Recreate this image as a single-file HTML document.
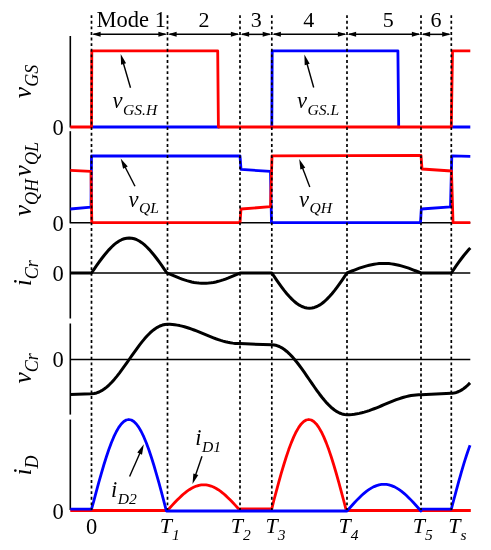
<!DOCTYPE html>
<html><head><meta charset="utf-8"><style>
html,body{margin:0;padding:0;background:#fff;}
svg{display:block;}
</style></head><body>
<svg width="491" height="550" viewBox="0 0 491 550">
<rect width="491" height="550" fill="#fff"/>
<line x1="93.5" y1="34.35" x2="165.5" y2="34.35" stroke="#000" stroke-width="1.5" /><polygon points="92.1,34.35 100.6,31.85 100.6,36.85" fill="#000"/><polygon points="166.9,34.35 158.4,31.85 158.4,36.85" fill="#000"/>
<line x1="169.5" y1="34.35" x2="238" y2="34.35" stroke="#000" stroke-width="1.5" /><polygon points="168.1,34.35 176.6,31.85 176.6,36.85" fill="#000"/><polygon points="239.4,34.35 230.9,31.85 230.9,36.85" fill="#000"/>
<line x1="242" y1="34.35" x2="269.8" y2="34.35" stroke="#000" stroke-width="1.5" /><polygon points="240.6,34.35 249.1,31.85 249.1,36.85" fill="#000"/><polygon points="271.2,34.35 262.7,31.85 262.7,36.85" fill="#000"/>
<line x1="273.8" y1="34.35" x2="345" y2="34.35" stroke="#000" stroke-width="1.5" /><polygon points="272.4,34.35 280.9,31.85 280.9,36.85" fill="#000"/><polygon points="346.4,34.35 337.9,31.85 337.9,36.85" fill="#000"/>
<line x1="349" y1="34.35" x2="419" y2="34.35" stroke="#000" stroke-width="1.5" /><polygon points="347.6,34.35 356.1,31.85 356.1,36.85" fill="#000"/><polygon points="420.4,34.35 411.9,31.85 411.9,36.85" fill="#000"/>
<line x1="423" y1="34.35" x2="449.3" y2="34.35" stroke="#000" stroke-width="1.5" /><polygon points="421.6,34.35 430.1,31.85 430.1,36.85" fill="#000"/><polygon points="450.7,34.35 442.2,31.85 442.2,36.85" fill="#000"/>
<text x="96.6" y="26.6" font-size="22.5" font-family="Liberation Serif, serif">Mode 1</text>
<text x="198.5" y="26.6" font-size="22" font-family="Liberation Serif, serif">2</text>
<text x="250.8" y="26.6" font-size="22" font-family="Liberation Serif, serif">3</text>
<text x="303.2" y="26.6" font-size="22" font-family="Liberation Serif, serif">4</text>
<text x="382.7" y="26.6" font-size="22" font-family="Liberation Serif, serif">5</text>
<text x="430.5" y="26.6" font-size="22" font-family="Liberation Serif, serif">6</text>
<line x1="70.3" y1="36" x2="70.3" y2="127.5" stroke="#000" stroke-width="1.6" />
<line x1="70.3" y1="131.2" x2="70.3" y2="223.3" stroke="#000" stroke-width="1.6" />
<line x1="70.3" y1="228" x2="70.3" y2="318.5" stroke="#000" stroke-width="1.6" />
<line x1="70.3" y1="323.5" x2="70.3" y2="414.6" stroke="#000" stroke-width="1.6" />
<line x1="70.3" y1="419.6" x2="70.3" y2="510" stroke="#000" stroke-width="1.6" />
<text x="52.6" y="135.0" font-size="22.5" font-family="Liberation Serif, serif">0</text>
<text x="52.6" y="231.10000000000002" font-size="22.5" font-family="Liberation Serif, serif">0</text>
<text x="52.6" y="281.40000000000003" font-size="22.5" font-family="Liberation Serif, serif">0</text>
<text x="52.6" y="367.2" font-size="22.5" font-family="Liberation Serif, serif">0</text>
<text x="52.6" y="518.8" font-size="22.5" font-family="Liberation Serif, serif">0</text>
<path d="M91.5,127L219.5,127M271.8,128.2L272.2,50.8L397.9,50.8L398.7,128.2M451.3,127L470.3,127" fill="none" stroke="#0000ff" stroke-width="2.8" stroke-linejoin="round" stroke-linejoin="miter"/>
<path d="M70.3,127L91.5,127L91.8,50.8L217.7,50.8L218.4,127L451.3,127L452.5,50.8L470.3,50.8" fill="none" stroke="#ff0000" stroke-width="2.8" stroke-linejoin="round" stroke-linejoin="miter"/>
<line x1="70.3" y1="222.7" x2="470.3" y2="222.7" stroke="#000" stroke-width="1.5" />
<path d="M70.3,209L91,207.2L91.5,156L240,155.8L241,169.4L270.5,171.4L271.5,222.7L420.5,222.7L421.3,209L450.5,206.9L451.8,155.8L470.3,156.3" fill="none" stroke="#0000ff" stroke-width="2.8" stroke-linejoin="round" stroke-linejoin="miter"/>
<path d="M70.3,170.4L91,171.3L91.8,222.7L240,222.7L241,209L270.5,206.7L272,155.9L421,155.4L422,169L451.5,171L453,222.7L470.3,222.7" fill="none" stroke="#ff0000" stroke-width="2.8" stroke-linejoin="round" stroke-linejoin="miter"/>
<line x1="70.3" y1="273" x2="470.3" y2="273" stroke="#000" stroke-width="1.5" />
<path d="M70.3,273L91.5,273L94.01,269.34L96.53,265.72L99.04,262.18L101.55,258.76L104.07,255.5L106.58,252.43L109.09,249.58L111.61,246.99L114.12,244.68L116.63,242.69L119.15,241.03L121.66,239.71L124.17,238.76L126.69,238.19L129.2,238L131.71,238.19L134.23,238.76L136.74,239.71L139.25,241.03L141.77,242.69L144.28,244.68L146.79,246.99L149.31,249.58L151.82,252.43L154.33,255.5L156.85,258.76L159.36,262.18L161.87,265.72L164.39,269.34L166.9,273L169.92,274.08L172.33,275.14L174.75,276.18L177.17,277.19L179.58,278.15L182,279.05L184.42,279.89L186.83,280.65L189.25,281.33L191.67,281.92L194.08,282.41L196.5,282.8L198.92,283.07L201.33,283.24L203.75,283.3L206.17,283.24L208.58,283.07L211,282.8L213.42,282.41L215.83,281.92L218.25,281.33L220.67,280.65L223.08,279.89L225.5,279.05L227.92,278.15L230.33,277.19L232.75,276.18L235.17,275.14L237.58,274.08L240,273L271.8,273L274.31,276.68L276.81,280.32L279.32,283.88L281.83,287.32L284.33,290.6L286.84,293.69L289.35,296.55L291.85,299.16L294.36,301.48L296.87,303.48L299.37,305.16L301.88,306.48L304.39,307.43L306.89,308.01L309.4,308.2L311.91,308.01L314.41,307.43L316.92,306.48L319.43,305.16L321.93,303.48L324.44,301.48L326.95,299.16L329.45,296.55L331.96,293.69L334.47,290.6L336.97,287.32L339.48,283.88L341.99,280.32L344.49,276.68L347,273L349.47,272L351.93,271L354.4,270.03L356.87,269.1L359.33,268.2L361.8,267.36L364.27,266.58L366.73,265.87L369.2,265.23L371.67,264.69L374.13,264.23L376.6,263.87L379.07,263.61L381.53,263.45L384,263.4L386.47,263.45L388.93,263.61L391.4,263.87L393.87,264.23L396.33,264.69L398.8,265.23L401.27,265.87L403.73,266.58L406.2,267.36L408.67,268.2L411.13,269.1L413.6,270.03L416.07,271L418.53,272L421,273L451.3,273L453.8,269.34L456.3,265.72L458.8,262.18L461.3,258.76L463.8,255.5L466.3,252.43L468.8,249.58L470.3,247.99" fill="none" stroke="#000" stroke-width="3.0" stroke-linejoin="round" />
<line x1="70.3" y1="359.5" x2="470.3" y2="359.5" stroke="#000" stroke-width="1.5" />
<path d="M70.3,394.5L91.5,393.7L94.03,393.51L96.57,392.94L99.1,392L101.63,390.7L104.17,389.05L106.7,387.07L109.23,384.79L111.77,382.22L114.3,379.4L116.83,376.35L119.37,373.11L121.9,369.72L124.43,366.21L126.97,362.63L129.5,359L132.03,355.37L134.57,351.79L137.1,348.28L139.63,344.89L142.17,341.65L144.7,338.6L147.23,335.78L149.77,333.21L152.3,330.93L154.83,328.95L157.37,327.3L159.9,326L162.43,325.06L164.97,324.49L167.5,324.3L169.92,324.35L172.33,324.51L174.75,324.77L177.17,325.13L179.58,325.59L182,326.14L184.42,326.78L186.83,327.49L189.25,328.28L191.67,329.12L194.08,330.02L196.5,330.97L198.92,331.94L201.33,332.94L203.75,333.95L206.17,334.96L208.58,335.96L211,336.93L213.42,337.88L215.83,338.78L218.25,339.62L220.67,340.41L223.08,341.12L225.5,341.76L227.92,342.31L230.33,342.77L232.75,343.13L235.17,343.39L237.58,343.55L240,343.6L271.8,344.8L274.31,344.99L276.81,345.56L279.32,346.51L281.83,347.82L284.33,349.48L286.84,351.47L289.35,353.78L291.85,356.36L294.36,359.21L296.87,362.27L299.37,365.53L301.88,368.95L304.39,372.48L306.89,376.1L309.4,379.75L311.91,383.4L314.41,387.02L316.92,390.55L319.43,393.97L321.93,397.22L324.44,400.29L326.95,403.14L329.45,405.72L331.96,408.03L334.47,410.02L336.97,411.68L339.48,412.99L341.99,413.94L344.49,414.51L347,414.7L349.47,414.65L351.93,414.48L354.4,414.21L356.87,413.84L359.33,413.36L361.8,412.79L364.27,412.13L366.73,411.39L369.2,410.58L371.67,409.7L374.13,408.77L376.6,407.79L379.07,406.78L381.53,405.75L384,404.7L386.47,403.65L388.93,402.62L391.4,401.61L393.87,400.63L396.33,399.7L398.8,398.82L401.27,398.01L403.73,397.27L406.2,396.61L408.67,396.04L411.13,395.56L413.6,395.19L416.07,394.92L418.53,394.75L421,394.7L451.3,393.2L452.55,393.15L453.8,393.01L455.05,392.77L456.3,392.43L457.55,392L458.8,391.48L460.05,390.87L461.3,390.17L462.55,389.37L463.8,388.5L465.05,387.54L466.3,386.5L467.55,385.38L468.8,384.18L470.05,382.92" fill="none" stroke="#000" stroke-width="3.0" stroke-linejoin="round" />
<path d="M70.3,510.5L167.5,510.5L169.92,507.81L172.33,505.16L174.75,502.56L177.17,500.05L179.58,497.65L182,495.39L184.42,493.3L186.83,491.4L189.25,489.71L191.67,488.24L194.08,487.02L196.5,486.06L198.92,485.36L201.33,484.94L203.75,484.8L206.17,484.94L208.58,485.36L211,486.06L213.42,487.02L215.83,488.24L218.25,489.71L220.67,491.4L223.08,493.3L225.5,495.39L227.92,497.65L230.33,500.05L232.75,502.56L235.17,505.16L237.58,507.81L240,510.5L240,508.8L271.8,508.8L273.7,500.99L276.21,491.58L278.71,482.38L281.21,473.49L283.72,465L286.22,457.01L288.72,449.61L291.23,442.87L293.73,436.88L296.23,431.69L298.74,427.37L301.24,423.95L303.74,421.49L306.25,420L308.75,419.5L311.25,420L313.76,421.49L316.26,423.95L318.76,427.37L321.27,431.69L323.77,436.88L326.27,442.87L328.78,449.61L331.28,457.01L333.78,465L336.29,473.49L338.79,482.38L341.29,491.58L343.8,500.99L346.3,510.5L470.8,510.5" fill="none" stroke="#ff0000" stroke-width="2.8" stroke-linejoin="round" />
<path d="M70.3,509.2L91.5,509.2L93.71,501.44L96.21,491.98L98.72,482.72L101.23,473.78L103.73,465.25L106.24,457.22L108.75,449.77L111.25,443L113.76,436.97L116.27,431.76L118.77,427.41L121.28,423.98L123.79,421.5L126.29,420L128.8,419.5L131.31,420L133.81,421.5L136.32,423.98L138.83,427.41L141.33,431.76L143.84,436.97L146.35,443L148.85,449.77L151.36,457.22L153.87,465.25L156.37,473.78L158.88,482.72L161.39,491.98L163.89,501.44L166.4,511L167.5,511L347,511L349.47,508.21L351.93,505.45L354.4,502.75L356.87,500.14L359.33,497.65L361.8,495.31L364.27,493.13L366.73,491.16L369.2,489.4L371.67,487.88L374.13,486.61L376.6,485.61L379.07,484.88L381.53,484.45L384,484.3L386.47,484.45L388.93,484.88L391.4,485.61L393.87,486.61L396.33,487.88L398.8,489.4L401.27,491.16L403.73,493.13L406.2,495.31L408.67,497.65L411.13,500.14L413.6,502.75L416.07,505.45L418.53,508.21L421,511L421,509.2L451.3,509.2L452.55,504.46L453.8,499.74L455.05,495.04L456.3,490.38L457.55,485.78L458.8,481.23L460.05,476.77L461.3,472.39L462.55,468.11L463.8,463.95L465.05,459.91L466.3,456.01L467.55,452.25L468.8,448.64L470.05,445.21" fill="none" stroke="#0000ff" stroke-width="2.8" stroke-linejoin="round" />
<line x1="130.5" y1="87.8" x2="123.3" y2="63.03" stroke="#000" stroke-width="1.4" /><polygon points="120.7,54.1 126.07,63.26 121.08,64.72" fill="#000"/>
<text x="112.5" y="108.2" font-size="22.5" font-style="italic" font-family="Liberation Serif, serif">v<tspan dx="0.5" dy="6.4" font-size="15.6">GS.H</tspan></text>
<line x1="313.7" y1="87.5" x2="306.93" y2="63.55" stroke="#000" stroke-width="1.4" /><polygon points="304.4,54.6 309.7,63.8 304.7,65.22" fill="#000"/>
<text x="297.0" y="108.2" font-size="22.5" font-style="italic" font-family="Liberation Serif, serif">v<tspan dx="0.5" dy="6.4" font-size="15.6">GS.L</tspan></text>
<line x1="135" y1="186.2" x2="124.97" y2="166.76" stroke="#000" stroke-width="1.4" /><polygon points="120.7,158.5 127.74,166.46 123.11,168.85" fill="#000"/>
<text x="128.5" y="207.2" font-size="22.5" font-style="italic" font-family="Liberation Serif, serif">v<tspan dx="0.5" dy="6.0" font-size="15.6">QL</tspan></text>
<line x1="309.8" y1="187.1" x2="302.48" y2="167.7" stroke="#000" stroke-width="1.4" /><polygon points="299.2,159 305.27,167.72 300.4,169.55" fill="#000"/>
<text x="299.0" y="207.2" font-size="22.5" font-style="italic" font-family="Liberation Serif, serif">v<tspan dx="0.5" dy="6.0" font-size="15.6">QH</tspan></text>
<line x1="129.6" y1="476.5" x2="140.06" y2="452.71" stroke="#000" stroke-width="1.4" /><polygon points="143.8,444.2 142.03,454.68 137.27,452.58" fill="#000"/>
<text x="111.0" y="496.5" font-size="22.5" font-style="italic" font-family="Liberation Serif, serif">i<tspan dx="0.5" dy="7" font-size="15.6">D2</tspan></text>
<line x1="202" y1="456.2" x2="195.51" y2="475.2" stroke="#000" stroke-width="1.4" /><polygon points="192.5,484 193.37,473.41 198.29,475.09" fill="#000"/>
<text x="195.2" y="444.6" font-size="22.5" font-style="italic" font-family="Liberation Serif, serif">i<tspan dx="0.5" dy="7" font-size="15.6">D1</tspan></text>
<text transform="translate(30.5,98.2) rotate(-90)" font-size="25.5" font-style="italic" font-family="Liberation Serif, serif">v<tspan dy="7.8" font-size="18">GS</tspan></text>
<text transform="translate(30.5,216.3) rotate(-90)" font-size="25.5" font-style="italic" font-family="Liberation Serif, serif">v<tspan dy="7.8" font-size="18">QH</tspan><tspan dx="2.6" dy="-7.8">v</tspan><tspan dy="7.8" font-size="18">QL</tspan></text>
<text transform="translate(30.5,286.3) rotate(-90)" font-size="25.5" font-style="italic" font-family="Liberation Serif, serif">i<tspan dy="7.8" font-size="18">Cr</tspan></text>
<text transform="translate(30.5,383.5) rotate(-90)" font-size="25.5" font-style="italic" font-family="Liberation Serif, serif">v<tspan dy="7.8" font-size="18">Cr</tspan></text>
<text transform="translate(30.5,475.5) rotate(-90)" font-size="25.5" font-style="italic" font-family="Liberation Serif, serif">i<tspan dy="7.8" font-size="18">D</tspan></text>
<text x="85.9" y="533.8" font-size="22.5" font-family="Liberation Serif, serif">0</text>
<text x="159.8" y="532.8" font-size="22" font-style="italic" font-family="Liberation Serif, serif">T<tspan dy="7" font-size="15.5">1</tspan></text>
<text x="230.8" y="532.8" font-size="22" font-style="italic" font-family="Liberation Serif, serif">T<tspan dy="7" font-size="15.5">2</tspan></text>
<text x="265.6" y="532.8" font-size="22" font-style="italic" font-family="Liberation Serif, serif">T<tspan dy="7" font-size="15.5">3</tspan></text>
<text x="338.4" y="532.8" font-size="22" font-style="italic" font-family="Liberation Serif, serif">T<tspan dy="7" font-size="15.5">4</tspan></text>
<text x="412.7" y="532.8" font-size="22" font-style="italic" font-family="Liberation Serif, serif">T<tspan dy="7" font-size="15.5">5</tspan></text>
<text x="448.2" y="532.8" font-size="22" font-style="italic" font-family="Liberation Serif, serif">T<tspan dy="7" font-size="15.5">s</tspan></text>
<line x1="91.5" y1="15.2" x2="91.5" y2="510" stroke="#000" stroke-width="1.7" stroke-dasharray="2.9 2.7"/>
<line x1="167.5" y1="15.2" x2="167.5" y2="510" stroke="#000" stroke-width="1.7" stroke-dasharray="2.9 2.7"/>
<line x1="240" y1="15.2" x2="240" y2="510" stroke="#000" stroke-width="1.7" stroke-dasharray="2.9 2.7"/>
<line x1="271.8" y1="15.2" x2="271.8" y2="510" stroke="#000" stroke-width="1.7" stroke-dasharray="2.9 2.7"/>
<line x1="347" y1="15.2" x2="347" y2="510" stroke="#000" stroke-width="1.7" stroke-dasharray="2.9 2.7"/>
<line x1="421" y1="15.2" x2="421" y2="510" stroke="#000" stroke-width="1.7" stroke-dasharray="2.9 2.7"/>
<line x1="451.3" y1="15.2" x2="451.3" y2="510" stroke="#000" stroke-width="1.7" stroke-dasharray="2.9 2.7"/>
</svg>
</body></html>
